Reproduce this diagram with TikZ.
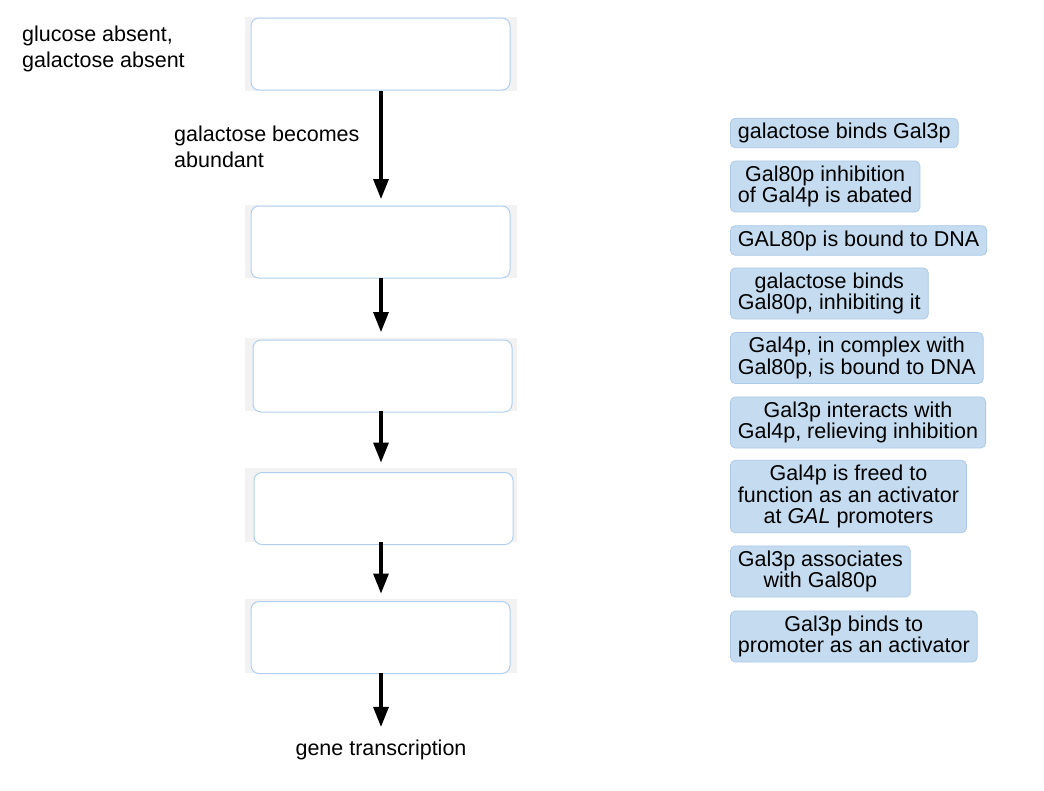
\documentclass[tikz,border=0pt]{standalone}
\usepackage{fontspec}
\setmainfont{Liberation Sans}
\usetikzlibrary{arrows.meta}
\definecolor{cardfill}{RGB}{197,220,240}
\definecolor{cardedge}{RGB}{172,202,232}
\definecolor{slotedge}{RGB}{178,208,238}
\tikzset{
    tray/.style={fill=black!5, minimum width=272pt, minimum height=73.5pt, inner sep=0pt},
    slot/.style={draw=slotedge, fill=white, rounded corners=8pt, line width=1pt,
        minimum width=259pt, minimum height=72pt, inner sep=0pt},
    card/.style={draw=cardedge, fill=cardfill, rounded corners=5pt, line width=0.8pt,
        anchor=west, align=center, inner xsep=7.5pt, inner ysep=4.8pt,
        font=\fontsize{21.5}{21.5}\selectfont},
    note/.style={anchor=north west, align=left, inner sep=0pt,
        font=\fontsize{21.5}{26}\selectfont},
    flow/.style={-{Triangle[length=20pt, width=15pt]}, line width=3.2pt, shorten >=5.5pt}
}
\begin{document}
\begin{tikzpicture}[x=1pt, y=-1pt]
    \useasboundingbox (0,0) rectangle (1044,790);
    % empty steps of the pathway
    \node[tray] (g1) at (381,54) {};
    \node[tray] (g2) at (381,241.5) {};
    \node[tray] (g3) at (381,374.5) {};
    \node[tray] (g4) at (381,505) {};
    \node[tray] (g5) at (381,636) {};
    \node[slot] (s1) at (380.5,54) {};
    \node[slot] (s2) at (380.5,242) {};
    \node[slot] (s3) at (382.5,376) {};
    \node[slot] (s4) at (383.5,508.5) {};
    \node[slot] (s5) at (380.5,637.5) {};
    \node[note] (start) at (22,25.5) {glucose absent,\\galactose absent};
    \node[note] (cue) at (174,125.5) {galactose becomes\\abundant};
    \node[font=\fontsize{21.5}{26}\selectfont] (gene) at (381,749.5) {gene transcription};
    % arrows
    \draw[flow] (g1.south) -- (g2.north);
    \draw[flow] (g2.south) -- (g3.north);
    \draw[flow] (g3.south) -- (g4.north);
    \draw[flow] (g4.south) -- (g5.north);
    \draw[flow, shorten >=9pt] (g5.south) -- (gene.north);
    % answer cards
    \node[card] (c1) at (730,133) {galactose binds Gal3p};
    \node[card] (c2) at (730,186.5) {Gal80p inhibition\\of Gal4p is abated};
    \node[card] (c3) at (730,240.5) {GAL80p is bound to DNA};
    \node[card] (c4) at (730,293.5) {galactose binds\\Gal80p, inhibiting it};
    \node[card] (c5) at (730,358) {Gal4p, in complex with\\Gal80p, is bound to DNA};
    \node[card] (c6) at (730,422.5) {Gal3p interacts with\\Gal4p, relieving inhibition};
    \node[card] (c7) at (730,496.5) {Gal4p is freed to\\function as an activator\\at \textit{GAL} promoters};
    \node[card] (c8) at (730,571.5) {Gal3p associates\\with Gal80p};
    \node[card] (c9) at (730,636.5) {Gal3p binds to\\promoter as an activator};
\end{tikzpicture}
\end{document}
